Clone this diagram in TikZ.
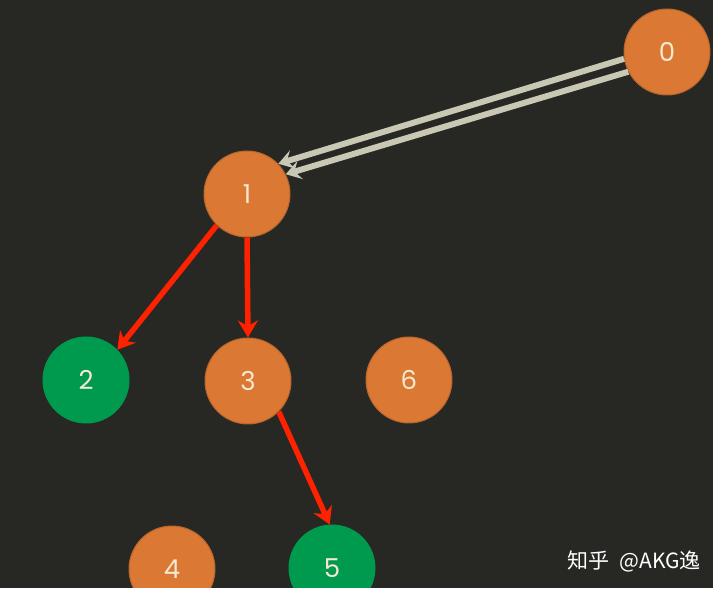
\documentclass[tikz,border=0pt]{standalone}
\usepackage{fontspec}
\setsansfont{Poppins}
\newfontfamily\cjk{Noto Sans CJK SC}
\usetikzlibrary{arrows.meta}
\definecolor{board}{HTML}{272723}
\definecolor{orangefill}{HTML}{DB7833}
\definecolor{orangeline}{HTML}{B5652E}
\definecolor{greenfill}{HTML}{009A4E}
\definecolor{digit}{HTML}{F6E9CF}
\definecolor{pathred}{HTML}{FF2200}
\definecolor{backgray}{HTML}{C9C8B5}
\def\board{(0,0) rectangle (713,588)}

\tikzset{
  vertex/.style={circle, minimum size=86pt, inner sep=0pt, draw=orangeline, line width=1pt,
    fill=orangefill, text=digit, font=\sffamily\fontsize{26}{26}\selectfont},
  found/.style={vertex, draw=greenfill, fill=greenfill},
  visit/.style={draw=pathred, line width=5.5pt, -{Stealth[length=17pt,width=20pt]}},
  back/.style={draw=backgray, line width=6pt, -{Stealth[length=15pt,width=19pt,inset=6pt]}}
}

\begin{document}
\begin{tikzpicture}[x=1pt, y=-1pt]
      \useasboundingbox (0,0) rectangle (721,593);
      \fill[white] (0,0) rectangle (721,593);
      \fill[board] \board;

      % Vertices
      \begin{scope}
        \clip \board;
        \node[vertex] (n0) at (667,52) {0};
        \node[vertex] (n1) at (247,194) {1};
        \node[found] (n2) at (86,380) {2};
        \node[vertex] (n3) at (248,381) {3};
        \node[vertex] (n6) at (409,380) {6};
        \node[vertex] (n4) at (172,569) {4};
        \node[found] (n5) at (332,568) {5};
      \end{scope}

      % Back edges
      \draw[back] (n0.189) -- (n1.44);
      \draw[back] (n0.207) -- (n1.27);

      % Search path
      \draw[visit] (n1.226) -- (n2.44);
      \draw[visit] (n1.270) -- (n3.90);
      \draw[visit] (n3.315) -- (n5.93);

      % Watermark
      \node[text=white, font=\cjk\fontsize{21}{21}\selectfont] (mark) at (634,561) {知乎\hspace{6pt} @AKG逸};

    \end{tikzpicture}
\end{document}
